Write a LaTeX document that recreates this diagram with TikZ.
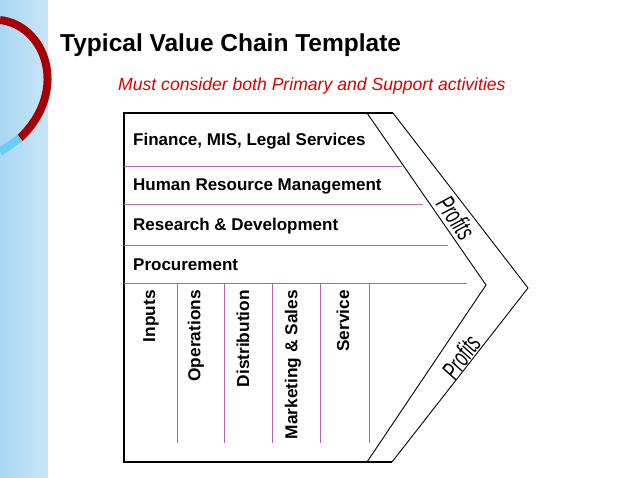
\documentclass[tikz,border=0pt]{standalone}
\usepackage{fontspec}
\usepackage{graphicx}
\setmainfont{Liberation Sans}
\definecolor{bandL}{RGB}{170,215,242}
\definecolor{bandR}{RGB}{200,230,248}
\begin{document}
\begin{tikzpicture}[x=1pt,y=-1pt,
  lab/.style={font=\fontsize{17}{19}\selectfont\bfseries,anchor=west,inner sep=0},
  vlab/.style={font=\fontsize{17.3}{19}\selectfont\bfseries,anchor=east,rotate=90,inner sep=0},
  sep/.style={draw=violet!60,line width=0.6pt},
  prof/.style={font=\fontsize{19}{20}\selectfont\itshape,inner sep=0}]
\useasboundingbox (0,0) rectangle (638,478);
\fill[white] (0,0) rectangle (638,478);
\shade[left color=bandL, right color=bandR] (0,0) rectangle (48,478);
\draw[line width=8pt,red!65!black] (0,20) .. controls (45,25) and (70,90) .. (20,138);
\draw[line width=8pt,cyan!60] (20,138) -- (0,152);
\node[anchor=west,inner sep=0,font=\fontsize{24.5}{26}\selectfont\bfseries] (title) at (60,45) {Typical Value Chain Template};
\node[anchor=west,inner sep=0,font=\fontsize{17.6}{19}\selectfont\itshape,text=red!85!black] (sub) at (118,86) {Must consider both Primary and Support activities};
% chevrons
\draw[line width=1.6pt] (393,113) -- (124,113) -- (124,462) -- (392,462);
\draw[line width=0.9pt] (367,113) -- (486,285) -- (367,462);
\draw[line width=0.9pt] (393,113) -- (528,288) -- (392,462);
% separators
\draw[sep] (124,166) -- (402,166);
\draw[sep] (124,204) -- (423,204);
\draw[sep] (124,245) -- (448,245);
\draw[sep] (124,283) -- (467,283);
\foreach \x in {177,224,272,320,369} \draw[sep] (\x,283) -- (\x,443);
\node[lab] (f) at (133,141) {Finance, MIS, Legal Services};
\node[lab] (h) at (133,186) {Human Resource Management};
\node[lab] (r) at (133,226) {Research \& Development};
\node[lab] (p) at (133,265) {Procurement};
\node[vlab] (v1) at (151,290) {Inputs};
\node[vlab] (v2) at (196,290) {Operations};
\node[vlab] (v3) at (243,290) {Distribution};
\node[vlab] (v4) at (293,290) {Marketing \& Sales};
\node[vlab] (v5) at (343,290) {Service};
\node[prof,rotate=-55] (p1) at (456,218) {\scalebox{0.85}[1.4]{Profits}};
\node[prof,rotate=55] (p2) at (461,357) {\scalebox{0.85}[1.4]{Profits}};
\end{tikzpicture}
\end{document}
